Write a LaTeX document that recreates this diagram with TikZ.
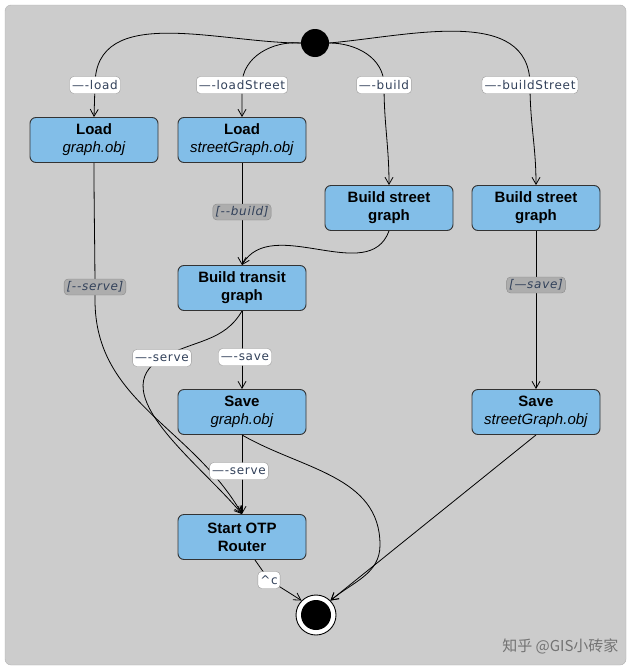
\documentclass[tikz,border=0pt]{standalone}
\usepackage{fontspec}
\setmainfont{Liberation Sans}
\newfontfamily\lbl{DejaVu Sans}[LetterSpace=6]
\newfontfamily\cjk{Noto Sans CJK SC}
\usetikzlibrary{arrows.meta}
\begin{document}
\begin{tikzpicture}[x=1pt,y=-1pt,
  act/.style={draw=black!80,fill=bx,rounded corners=6pt,minimum width=128pt,minimum height=45pt,align=center,font=\fontsize{15}{18}\selectfont,line width=0.9pt},
  lab/.style={draw=black!40,fill=white,rounded corners=4pt,inner sep=2.5pt,font=\lbl\fontsize{12}{12}\selectfont,text=lc,minimum height=17pt},
  grd/.style={draw=black!45,fill=black!32,rounded corners=4pt,inner sep=2.5pt,font=\lbl\itshape\fontsize{12}{12}\selectfont,text=lc,minimum height=16pt},
  e/.style={draw=black,line width=0.8pt,-{Straight Barb[length=7pt,width=8pt,line width=0.8pt]}}]
\definecolor{bx}{RGB}{130,190,232}
\definecolor{lc}{RGB}{50,65,90}
\useasboundingbox (0,0) rectangle (631,672);
\fill[white] (0,0) rectangle (631,672);
\fill[black!20,draw=black!30,rounded corners=6pt] (5,5) rectangle (626,665);
\node[circle,fill=black,minimum size=28pt,inner sep=0] (s) at (315,43) {};
\node[act] (l1) at (94,140) {\textbf{Load}\\\textit{graph.obj}};
\node[act] (l2) at (242,140) {\textbf{Load}\\\textit{streetGraph.obj}};
\node[act] (b3) at (389,208) {\textbf{Build street}\\\textbf{graph}};
\node[act] (b4) at (536,208) {\textbf{Build street}\\\textbf{graph}};
\node[act] (bt) at (242,288) {\textbf{Build transit}\\\textbf{graph}};
\node[act] (sv) at (242,412) {\textbf{Save}\\\textit{graph.obj}};
\node[act] (s4) at (536,412) {\textbf{Save}\\\textit{streetGraph.obj}};
\node[act] (r) at (242,537) {\textbf{Start OTP}\\\textbf{Router}};
\node[circle,draw=black,line width=0.9pt,fill=white,minimum size=40pt,inner sep=0] (en) at (316,615) {};
\node[circle,fill=black,minimum size=30pt,inner sep=0] at (en) {};
\coordinate (c1) at (95,85); \coordinate (c2) at (242,85);
\coordinate (c3) at (384,85); \coordinate (c4) at (530,85);
\coordinate (cx) at (269,580);
\draw[e] (s.west) to[out=180,in=90] (c1) -- (l1.north);
\draw[e] (s.west) to[out=175,in=90] (c2) -- (l2.north);
\draw[e] (s.east) to[out=0,in=90] (c3) to[out=-90,in=90] (b3.north);
\draw[e] (s.east) to[out=5,in=90] (c4) to[out=-90,in=90] (b4.north);
\draw[e] (l2) -- (bt);
\draw[e] (b3.south) to[out=-110,in=60] (bt.north);
\draw[e] (l1.south) to[out=-90,in=90] (95,300) to[out=-90,in=120] (r.north);
\draw[e] (bt.south) to[out=-120,in=30] (162,358) to[out=-150,in=130] (r.north);
\draw[e] (bt) -- (sv);
\draw[e] (sv) -- (r);
\draw[e] (sv.south) to[out=-30,in=90] (380,545) to[out=-90,in=40] (en.north east);
\draw[e] (b4) -- (s4);
\draw[e] (s4.south) -- (en.north east);
\draw[e] (255,560) -- (cx) -- (en.north west);
\node[lab] at (c1) {—-load};
\node[lab] at (c2) {—-loadStreet};
\node[lab] at (c3) {—-build};
\node[lab] at (c4) {—-buildStreet};
\node[grd] at (242,212) {[--build]};
\node[grd] at (95,287) {[--serve]};
\node[grd] at (536,285) {[—save]};
\node[lab] at (162,358) {—-serve};
\node[lab] at (245,357) {—-save};
\node[lab] at (239,471) {—-serve};
\node[lab] at (cx) {\^{}c};
\node[text=black!55,font=\cjk\fontsize{15}{15}\selectfont,anchor=east] at (622,646) {知乎 @GIS小砖家};
\end{tikzpicture}
\end{document}
